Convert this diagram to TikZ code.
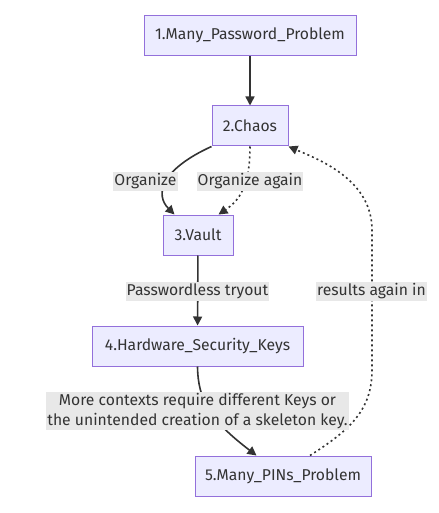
\documentclass[tikz,border=0pt]{standalone}
\usepackage{fontspec}
\setmainfont{Fira Sans}
\usetikzlibrary{arrows.meta}
\begin{document}
\begin{tikzpicture}[x=1bp, y=-1bp, font=\fontsize{15.7bp}{20bp}\selectfont,
  box/.style={draw=boxline, fill=boxfill, line width=1bp, text=ink, minimum height=40bp, inner sep=0pt},
  lbl/.style={fill=lblfill, text=ink, inner sep=1bp, minimum height=19bp},
  arr/.style={draw=ink, line width=1.6bp, -{Triangle[length=9bp,width=9bp]}},
  dots/.style={dash pattern=on 2bp off 3bp}]
\definecolor{boxfill}{HTML}{ECECFF}
\definecolor{boxline}{HTML}{9370DB}
\definecolor{lblfill}{HTML}{E8E8E8}
\definecolor{ink}{HTML}{333333}
\useasboundingbox (0,0) rectangle (439,513);
\node[box, minimum width=212bp] (n1) at (250,35.5) {1.Many\_Password\_Problem};
\node[box, minimum width=76bp] (n2) at (250,126) {2.Chaos};
\node[box, minimum width=70bp] (n3) at (198,235) {3.Vault};
\node[box, minimum width=211bp] (n4) at (197.5,346) {4.Hardware\_Security\_Keys};
\node[box, minimum width=176bp] (n5) at (283,476) {5.Many\_PINs\_Problem};
% edges
\draw[arr] (n1) -- (n2);
\draw[arr] (n2.south west) .. controls (160,170) and (155,195) .. ([xshift=12bp]n3.north west);
\draw[arr, dots] (n2.south) .. controls (250,185) and (240,200) .. ([xshift=-15bp]n3.north east);
\draw[arr] (n3) -- (n4);
\draw[arr] (n4.south) .. controls (198,400) and (210,420) .. ([xshift=62bp]n5.north west);
\draw[arr, dots] ([xshift=27bp]n5.north) .. controls (350,430) and (372,410) .. (372,370)
  -- (372,230) .. controls (372,180) and (320,160) .. (n2.south east);
% edge labels
\node[lbl] (l1) at (145.5,181.5) {Organize};
\node[lbl] (l2) at (250,181.5) {Organize again};
\node[lbl] (l3) at (197.5,291.5) {Passwordless tryout};
\node[lbl] (l4) at (371.5,291.5) {results again in};
\node[lbl, align=center] (l5) at (197.5,411) {More contexts require different Keys or\\the unintended creation of a skeleton key.};
\end{tikzpicture}
\end{document}
